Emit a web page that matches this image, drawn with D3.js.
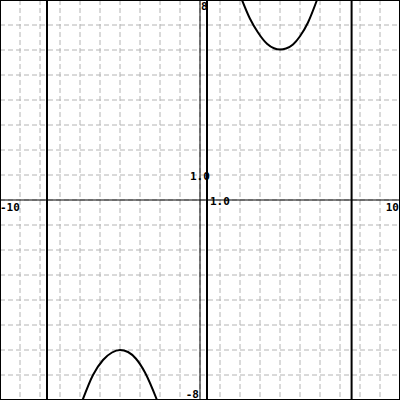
<!DOCTYPE html>
<html><head><meta charset="utf-8">
<script src="https://cdn.jsdelivr.net/npm/d3@7"></script>
<style>body{margin:0;background:#fff}</style>
</head><body>
<svg id="chart" width="400" height="400"></svg>
<script>
// points
const upperBranch = [[2.1,8],[2.5,7.25],[2.9,6.7],[3.35,6.25],[3.7,6.07],[4,6.02],[4.3,6.06],[4.65,6.22],[5,6.55],[5.4,7.1],[5.85,8]];
const lowerBranch = [[-5.87,-8],[-5.35,-7.0],[-4.85,-6.4],[-4.4,-6.1],[-4,-6],[-3.6,-6.08],[-3.2,-6.35],[-2.75,-6.9],[-2.15,-8]];
const steepLines = [
    [[-7.65,-8],[-7.65,8]],
    [[0.35,-8],[0.35,8]],
    [[7.58,-8],[7.58,8]]
];
const xDomain = [-10, 10];
const yDomain = [-8, 8];

const svg = d3.select('#chart');
const width = 400, height = 400;

const x = d3.scaleLinear().domain(xDomain).range([0, width]);
const y = d3.scaleLinear().domain(yDomain).range([height, 0]);

// dashed grid
svg.append('g').selectAll('line')
    .data(d3.range(-9, 10))
    .enter().append('line')
    .attr('x1', d => x(d)).attr('x2', d => x(d))
    .attr('y1', 0).attr('y2', height)
    .attr('stroke', '#b4b4b4').attr('stroke-dasharray', '5,3');
svg.append('g').selectAll('line')
    .data(d3.range(-7, 8))
    .enter().append('line')
    .attr('y1', d => y(d)).attr('y2', d => y(d))
    .attr('x1', 0).attr('x2', width)
    .attr('stroke', '#b4b4b4').attr('stroke-dasharray', '5,3');

// axes
svg.append('line').attr('x1', 0).attr('x2', width).attr('y1', y(0)).attr('y2', y(0)).attr('stroke', '#000');
svg.append('line').attr('y1', 0).attr('y2', height).attr('x1', x(0)).attr('x2', x(0)).attr('stroke', '#000');

const line = d3.line().x(d => x(d[0])).y(d => y(d[1])).curve(d3.curveMonotoneX);
[upperBranch, lowerBranch].forEach(pts => {
    svg.append('path').datum(pts).attr('d', line)
        .attr('fill', 'none').attr('stroke', '#000').attr('stroke-width', 2);
});
steepLines.forEach(pts => {
    svg.append('path').datum(pts).attr('d', d3.line().x(d => x(d[0])).y(d => y(d[1])))
        .attr('fill', 'none').attr('stroke', '#000').attr('stroke-width', 2);
});

// labels
const font = 'DejaVu Sans Mono';
function label(t, px, py, anchor) {
    svg.append('text').attr('x', px).attr('y', py).attr('text-anchor', anchor || 'start')
        .attr('font-family', font).attr('font-weight', 'bold').attr('font-size', 11).text(t);
}
label('-10', 0, 211);
label('10', 399, 211, 'end');
label('8', x(0) + 1, 10);
label('-8', x(0) - 1, 398, 'end');
label('1.0', x(0) + 10, 205);
label('1.0', x(0) - 10, y(1) + 5);

// border
svg.append('rect').attr('x', 0.5).attr('y', 0.5).attr('width', width - 1).attr('height', height - 1)
    .attr('fill', 'none').attr('stroke', '#000');
</script>
</body></html>
